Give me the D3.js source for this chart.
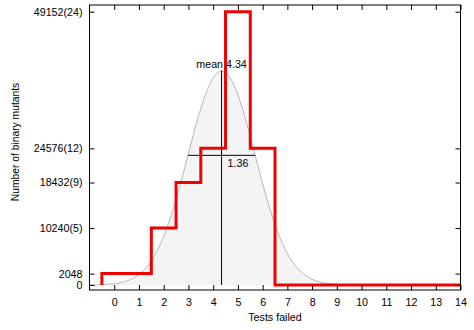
<!DOCTYPE html>
<html>
<head>
<meta charset="utf-8">
<script src="https://cdn.jsdelivr.net/npm/d3@7"></script>
<style>
  html, body { margin: 0; padding: 0; background: #fff; }
  svg { display: block; font-family: "Liberation Sans", Arial, Helvetica, sans-serif; }
</style>
</head>
<body>
<script>
// ---- data ----
const testsFailed = [0, 1, 2, 3, 4, 5, 6, 7, 8, 9, 10, 11, 12, 13, 14];
const mutantCounts = [2048, 2048, 10240, 18432, 24576, 49152, 24576, 0, 0, 0, 0, 0, 0, 0, 0];
const xTickValues = [0, 1, 2, 3, 4, 5, 6, 7, 8, 9, 10, 11, 12, 13, 14];
const yTickValues = [0, 2048, 10240, 18432, 24576, 49152];
const yTickLabels = ["0", "2048", "10240(5)", "18432(9)", "24576(12)", "49152(24)"];
const fitMean = [4.34];
const fitSd = [1.36];

(function () {
// ---- layout ----
const W = 474, H = 330;
const pL = 89.5, pR = 460.5, pT = 5, pB = 290;
const FS = 10.7;

const svg = d3.select("body").append("svg").attr("width", W).attr("height", H);

const x = d3.scaleLinear().domain([-1, 14]).range([pL, pR]);
const y = d3.scaleLinear().domain([-900, 50360]).range([pB, pT]);

const mean = fitMean[0], sd = fitSd[0];
const total = d3.sum(mutantCounts);
const gauss = v => total * Math.exp(-0.5 * ((v - mean) / sd) ** 2) / (sd * Math.sqrt(2 * Math.PI));
const gx = d3.range(-1, 14.0001, 0.05);
const gPts = gx.map(v => [v, gauss(v)]);

svg.append("defs").append("clipPath").attr("id", "plot")
  .append("rect").attr("x", pL).attr("y", pT).attr("width", pR - pL).attr("height", pB - pT);

const g = svg.append("g").attr("clip-path", "url(#plot)");

// gaussian fill
g.append("path")
  .attr("d", d3.area().x(d => x(d[0])).y0(y(0)).y1(d => y(d[1]))(gPts))
  .attr("fill", "#f4f4f4");
// gaussian line
g.append("path")
  .attr("d", d3.line().x(d => x(d[0])).y(d => y(d[1]))(gPts))
  .attr("fill", "none").attr("stroke", "#999").attr("stroke-width", 0.7);

// mean line
const peak = gauss(mean);
g.append("line")
  .attr("x1", x(mean)).attr("x2", x(mean))
  .attr("y1", y(0)).attr("y2", y(peak) - 1)
  .attr("stroke", "#000").attr("stroke-width", 1);
// sd line
const sdH = gauss(mean + sd);
g.append("line")
  .attr("x1", x(mean - sd)).attr("x2", x(mean + sd))
  .attr("y1", y(sdH)).attr("y2", y(sdH))
  .attr("stroke", "#000").attr("stroke-width", 1);

// histogram steps
const stepPts = [[-0.5, 0]];
testsFailed.forEach((t, i) => { stepPts.push([t - 0.5, mutantCounts[i]]); });
stepPts.push([14, mutantCounts[mutantCounts.length - 1]]);
g.append("path")
  .attr("d", d3.line().x(d => x(d[0])).y(d => y(d[1])).curve(d3.curveStepAfter)(stepPts))
  .attr("fill", "none").attr("stroke", "#f00000").attr("stroke-width", 3)
  .attr("stroke-linejoin", "miter");

// annotations
svg.append("text").attr("x", x(mean)).attr("y", 67.5)
  .attr("text-anchor", "middle").attr("font-size", FS).attr("fill", "#000")
  .text("mean " + mean.toFixed(2));
svg.append("text").attr("x", x(mean) + 6).attr("y", 167)
  .attr("text-anchor", "start").attr("font-size", FS).attr("fill", "#000")
  .text(sd.toFixed(2));

// axes
const fmt = v => yTickLabels[yTickValues.indexOf(v)];
const ax = (sel) => {
  sel.select(".domain").remove();
  sel.attr("font-family", null).attr("font-size", FS);
  sel.selectAll("text").attr("fill", "#000");
  sel.selectAll("line").attr("stroke", "#000");
};

svg.append("g").attr("transform", `translate(0,${pB})`)
  .call(d3.axisBottom(x).tickValues(xTickValues).tickFormat(d3.format("d")).tickSize(-5).tickPadding(8)).call(ax);
svg.append("g").attr("transform", `translate(0,${pT})`)
  .call(d3.axisTop(x).tickValues(xTickValues).tickFormat("").tickSize(-5)).call(ax);
svg.append("g").attr("transform", `translate(${pL},0)`)
  .call(d3.axisLeft(y).tickValues(yTickValues).tickFormat(fmt).tickSize(-5).tickPadding(7)).call(ax);
svg.append("g").attr("transform", `translate(${pR},0)`)
  .call(d3.axisRight(y).tickValues(yTickValues).tickFormat("").tickSize(-5)).call(ax);

// frame
svg.append("rect").attr("x", pL).attr("y", pT).attr("width", pR - pL).attr("height", pB - pT)
  .attr("fill", "none").attr("stroke", "#000").attr("stroke-width", 1);

// axis titles
svg.append("text").attr("x", (pL + pR) / 2).attr("y", 321)
  .attr("text-anchor", "middle").attr("font-size", FS).text("Tests failed");
svg.append("text").attr("transform", `translate(18.5,142) rotate(-90)`)
  .attr("text-anchor", "middle").attr("font-size", 10.3).text("Number of binary mutants");
})();
</script>
</body>
</html>
